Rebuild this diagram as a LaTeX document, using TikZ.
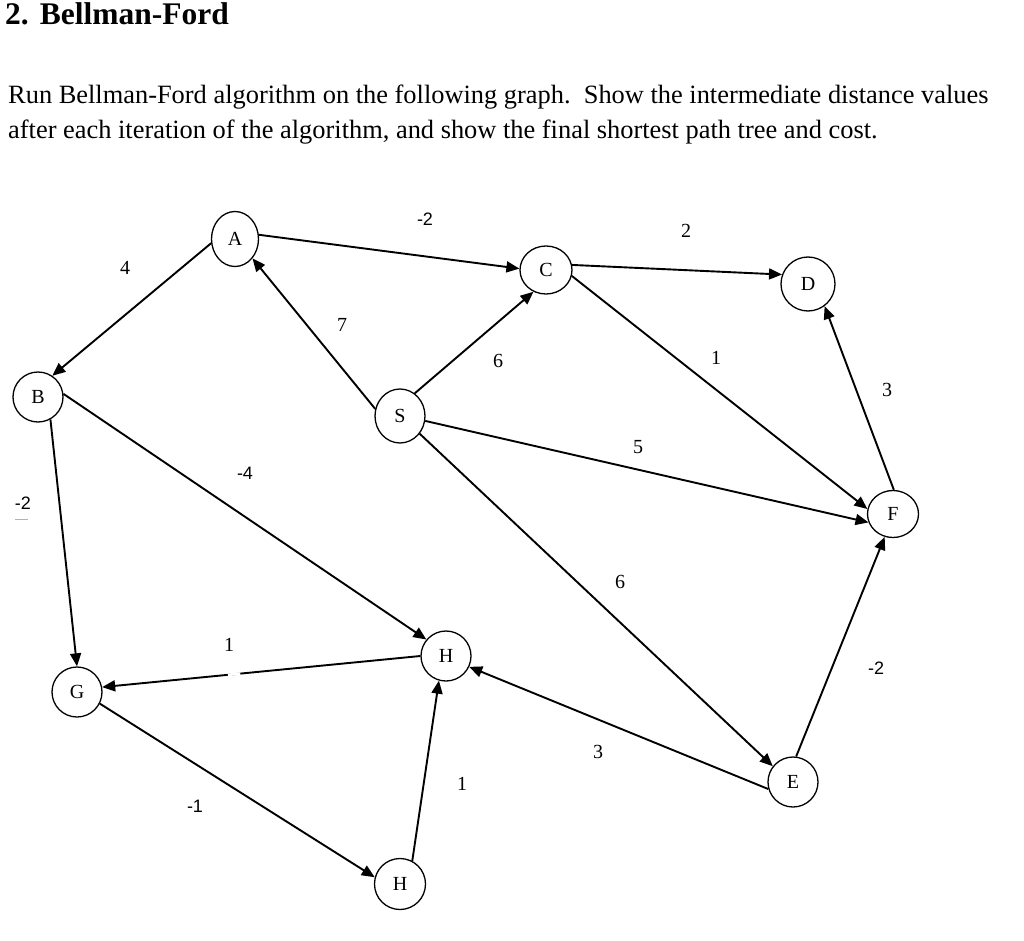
\documentclass[tikz,border=0pt]{standalone}
\usepackage{fontspec}
\setmainfont{Liberation Serif}
\newfontfamily\sansf{Liberation Sans}
\usetikzlibrary{arrows.meta,shapes.geometric,calc}
\tikzset{
  vtx/.style={draw, ellipse, line width=1.3pt, inner sep=0pt, minimum width=50pt, minimum height=50pt, font=\fontsize{20}{20}\selectfont},
  edge/.style={line width=1.9pt, -{Triangle[length=13pt,width=11pt]}},
  pl/.style={inner sep=0pt, font=\fontsize{20}{20}\selectfont},
  nl/.style={inner sep=0pt, font=\sansf\fontsize{18}{18}\selectfont},
  txt/.style={inner sep=0pt, anchor=base west}
}
\begin{document}
\begin{tikzpicture}[x=1pt,y=-1pt]
\useasboundingbox (0,0) rectangle (1024,941);
% text
\node[txt, font=\fontsize{31.5}{36}\selectfont\bfseries] (title) at (5,25) {2.\hspace{11pt}Bellman-Ford};
\node[txt, font=\fontsize{26.4}{35}\selectfont] (l1) at (8,104) {Run Bellman-Ford algorithm on the following graph.\ \ Show the intermediate distance values};
\node[txt, font=\fontsize{26.4}{35}\selectfont] (l2) at (8,139) {after each iteration of the algorithm, and show the final shortest path tree and cost.};
% vertices
\node[vtx, minimum width=47pt, minimum height=55pt] (A) at (235,239) {A};
\node[vtx, minimum width=52pt, minimum height=48pt] (C) at (546,270) {C};
\node[vtx, minimum width=54pt, minimum height=54pt] (D) at (808,284) {D};
\node[vtx] (B) at (38,397) {B};
\node[vtx, minimum width=50pt, minimum height=54pt] (S) at (400,416) {S};
\node[vtx, minimum width=51pt, minimum height=47pt] (F) at (893,514) {F};
\node[vtx] (Hu) at (446,656) {H};
\node[vtx] (G) at (77,692) {G};
\node[vtx] (E) at (793,782) {E};
\node[vtx, minimum width=51pt, minimum height=51pt] (Hl) at (400,884) {H};
% edges
\draw[edge] (A.190) -- (B.56);
\draw[edge] (A.10) -- (C.177);
\draw[edge] (C.11) -- (D.160);
\draw[edge] (S.164) -- (A.-48);
\draw[edge] (S.57) -- (C.240);
\draw[edge] (C.-13) -- (F.169);
\draw[edge] (S.-11) -- (F.199);
\draw[edge] (S.-42) -- (E.142);
\draw[edge] (F.88) -- (D.-53);
\draw[edge] (E.83) -- (F.250);
\draw[edge] (E.196) -- (Hu.-25);
\draw[edge] (Hl.62) -- (Hu.254);
\draw[edge] (G.-27) -- (Hl.165);
\draw[edge] (Hu.180) -- (G.11);
\draw[edge] (B.-61) -- (G.90);
\draw[edge] (B.7) -- (Hu.140);
% small gap in the H-G line
\draw[white, line width=2.6pt] ($(Hu.180)!0.566!(G.11)$) -- ($(Hu.180)!0.605!(G.11)$);
% labels
\node[pl] (w1) at (125,268) {4};
\node[nl] (w2) at (425,219) {-2};
\node[pl] (w3) at (686,231) {2};
\node[pl] (w4) at (342,325) {7};
\node[pl] (w5) at (498,361) {6};
\node[pl] (w6) at (716,358) {1};
\node[pl] (w7) at (887,390) {3};
\node[pl] (w8) at (638,447) {5};
\node[pl] (w9) at (620,582) {6};
\node[nl] (w10) at (23,503) {-2};
\draw[gray!60, line width=0.8pt] (15,519) -- (28,519);
\node[nl] (w11) at (245,473) {-4};
\node[pl] (w12) at (229,645) {1};
\node[nl] (w13) at (195,806) {-1};
\node[pl] (w14) at (462,784) {1};
\node[pl] (w15) at (598,752) {3};
\node[nl] (w16) at (876,668) {-2};
\end{tikzpicture}
\end{document}
